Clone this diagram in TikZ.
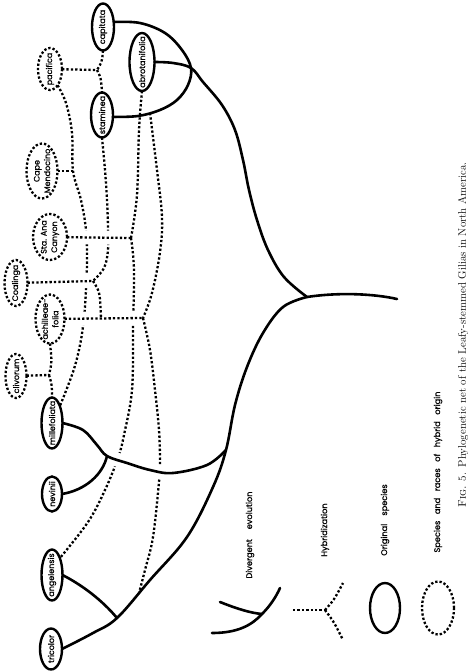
\documentclass[tikz,border=0pt]{standalone}
\usepackage{fontspec}
\newfontfamily\lblfont{Poppins}[FakeBold=0.9]
\usetikzlibrary{shapes.geometric}
\begin{document}
\begin{tikzpicture}[x=1pt,y=-1pt,
  solidl/.style={line width=2.6pt, line cap=round},
  dotl/.style={line width=2.3pt, dash pattern=on 2.3pt off 2.1pt},
  halo/.style={draw=white, line width=14pt},
  orig/.style={ellipse, draw, line width=2.4pt, inner sep=0pt, outer sep=0pt},
  hyb/.style={ellipse, draw, line width=2.3pt, dash pattern=on 2.3pt off 2pt, inner sep=0pt, outer sep=0pt},
  lbl/.style={rotate=90, font=\lblfont\fontsize{8}{10.5}\selectfont, align=center, inner sep=0pt},
  leg/.style={rotate=90, font=\lblfont\fontsize{8.2}{9}\selectfont, inner sep=0pt},
]
\useasboundingbox (0,0) rectangle (474,672);

% ---------- taxa ----------
\node[orig, minimum width=22pt, minimum height=47pt] (cap) at (103,27) {};
\node[lbl] (capL) at (cap) {capitata};
\node[orig, minimum width=25pt, minimum height=58pt] (abr) at (142,62) {};
\node[lbl] (abrL) at (abr) {abrotanifolia};
\node[orig, minimum width=22pt, minimum height=45pt] (sta) at (102,115) {};
\node[lbl] (staL) at (sta) {staminea};
\node[hyb, minimum width=24pt, minimum height=42pt] (pac) at (50,69) {};
\node[lbl] (pacL) at (pac) {pacifica};
\node[hyb, minimum width=31pt, minimum height=55pt] (cape) at (42,171) {};
\node[lbl] (capeL) at (cape) {Cape\\Mendocino};
\node[hyb, minimum width=34pt, minimum height=46pt] (sana) at (50,237) {};
\node[lbl] (sanaL) at (sana) {Sta. Ana\\Canyon};
\node[hyb, minimum width=23pt, minimum height=46pt] (coal) at (16,283) {};
\node[lbl] (coalL) at (coal) {Coalinga};
\node[hyb, minimum width=29pt, minimum height=49pt] (ach) at (50,319) {};
\node[lbl] (achL) at (ach) {achilleae-\\folia};
\node[hyb, minimum width=21pt, minimum height=44pt] (cliv) at (16,376) {};
\node[lbl] (clivL) at (cliv) {clivorum};
\node[orig, minimum width=21pt, minimum height=51pt] (mil) at (52,423) {};
\node[lbl] (milL) at (mil) {millefoliata};
\node[orig, minimum width=20pt, minimum height=35pt] (nev) at (52,494) {};
\node[lbl] (nevL) at (nev) {nevinii};
\node[orig, minimum width=21pt, minimum height=51pt] (ang) at (52,575) {};
\node[lbl] (angL) at (ang) {angelensis};
\node[orig, minimum width=22pt, minimum height=41pt] (tri) at (51,649) {};
\node[lbl] (triL) at (tri) {tricolor};

% ---------- junctions ----------
\coordinate (J0) at (307,297);
\coordinate (R)  at (397,299);
\coordinate (J1) at (191,68);
\coordinate (J2) at (226,450);
\coordinate (J3) at (107,456);
\coordinate (J4) at (117,618);
\coordinate (H1) at (97,70);
\coordinate (H2) at (73,171);
\coordinate (H3) at (131,238);
\coordinate (H4) at (93,281);
\coordinate (H5) at (143,318);
\coordinate (H6) at (49,375);
\coordinate (P)  at (101,319);
\coordinate (T1) at (150,113);
\coordinate (T2) at (139,593);

% ---------- hybridization lines (first layer) ----------
\draw[dotl] (cap.south) .. controls (102,62) .. (H1);
\draw[dotl] (H1) .. controls (101,78) .. (sta.north);
\draw[dotl] (pac) -- (H1);
\draw[dotl] plot[smooth, tension=0.6] coordinates {(pac.-65) (66,103) (72,133) (H2) (81,200) (86,230) (87,260) (86,290) (84,318) (80,345) (73,372) (mil.65)};
\draw[dotl] (cape) -- (H2);
\draw[dotl] plot[smooth, tension=0.6] coordinates {(abr.south) (139,130) (137,195) (H3)};
\draw[dotl] plot[smooth, tension=0.6] coordinates {(H3) (134,270) (133,330) (132,390) (124,435) (118,458) (105,490) (88,522) (ang.65)};
\draw[dotl] plot[smooth, tension=0.6] coordinates {(T1) (157,170) (162,217) (160,252) (152,293) (H5)};
\draw[dotl] plot[smooth, tension=0.6] coordinates {(H5) (150,350) (155,390) (159,430) (160,463) (159,482) (153,537) (145,570) (T2)};
\draw[dotl] (ach.south) .. controls (52,362) .. (H6);
\draw[dotl] (H6) .. controls (52,385) .. (mil.north);
\draw[dotl] (cliv) -- (H6);

% Coalinga cross line
\draw[halo, shorten <=6pt, shorten >=3.5pt] (coal) -- (H4);
\draw[dotl] (coal) -- (H4);
% staminea line
\draw[dotl] plot[smooth, tension=0.6] coordinates {(sta.south) (105,170) (107,200) (108,227) (108,250) (104,268) (H4)};
% Sta. Ana cross line
\draw[halo, shorten <=6pt, shorten >=7pt] (sana) -- (H3);
\draw[dotl] (sana) -- (H3);
% achilleae-folia cross line
\draw[halo, shorten <=6pt, shorten >=6pt] (ach) -- (H5);
\draw[dotl] (ach) -- (H5);
\draw[dotl] (H4) .. controls (100,292) .. (P);

% ---------- divergent evolution ----------
\draw[halo] plot[smooth, tension=0.6] coordinates {(J2) (207,465) (173,473) (150,470) (127,463) (J3)};
\draw[solidl] (J0) .. controls (340,292) and (375,294) .. (R);
\draw[solidl] plot[smooth, tension=0.6] coordinates {(abr.east) (173,63) (J1) (203,82) (222,105) (235,130) (243,160) (249,190) (257,220) (268,250) (284,277) (J0)};
\draw[solidl] plot[smooth, tension=0.6] coordinates {(cap.25) (140,23) (165,33) (182,50) (J1) (188,85) (177,100) (160,110) (138,116) (sta.-10)};
\draw[solidl] plot[smooth, tension=0.6] coordinates {(J0) (283,307) (263,333) (247,367) (235,405) (J2) (213,487) (187,537) (150,580) (J4) (93,633) (tri.east)};
\draw[solidl] plot[smooth, tension=0.6] coordinates {(J2) (207,465) (173,473) (150,470) (127,463) (J3) (97,445) (83,430) (mil.east)};
\draw[solidl] (J3) .. controls (103,474) and (86,490) .. (nev.east);
\draw[solidl] (J4) .. controls (102,600) and (82,585) .. (ang.east);

% ---------- legend ----------
\coordinate (ld1) at (212,633);
\coordinate (ldj) at (262,614);
\coordinate (ld2) at (280,588);
\coordinate (ld3) at (220,602);
\draw[solidl] (ld1) .. controls (238,633) and (252,625) .. (ldj) .. controls (270,606) and (276,597) .. (ld2);
\draw[solidl] (ld3) .. controls (235,608) and (250,613) .. (ldj);
\node[leg] (legD) at (250,535) {Divergent\hspace{1.2em}evolution};

\coordinate (lh0) at (293,610);
\coordinate (lhj) at (325,610);
\coordinate (lh1) at (343,583);
\coordinate (lh2) at (343,640);
\draw[dotl] (lh0) -- (lhj);
\draw[dotl] (lhj) .. controls (334,600) .. (lh1);
\draw[dotl] (lhj) .. controls (334,622) .. (lh2);
\node[leg] (legH) at (325,530) {Hybridization};

\node[orig, minimum width=30pt, minimum height=50pt] (lego) at (385,608) {};
\node[leg] (legO) at (385,520) {Original\hspace{1em}species};
\node[hyb, minimum width=32pt, minimum height=53pt] (legh) at (438,608) {};
\node[leg] (legS) at (438,472) {Species\hspace{0.8em}and\hspace{0.8em}races\hspace{0.8em}of\hspace{0.8em}hybrid\hspace{0.8em}origin};

% ---------- caption ----------
\node[rotate=90, font=\fontsize{11}{13}\selectfont, inner sep=0pt] (capt) at (463,335)
  {\textsc{Fig.} 5.\enspace Phylogenetic net of the Leafy-stemmed Gilias in North America.};
\end{tikzpicture}
\end{document}
